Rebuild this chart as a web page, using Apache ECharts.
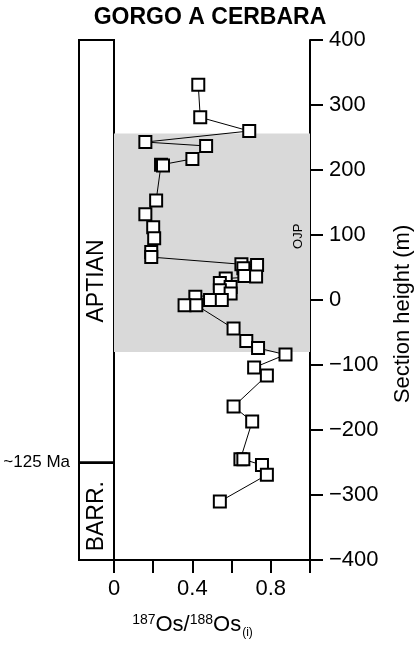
<!DOCTYPE html>
<html>
<head>
<meta charset="utf-8">
<script src="https://cdn.jsdelivr.net/npm/echarts@6/dist/echarts.min.js"></script>
<style>
  html, body { margin: 0; padding: 0; background: #fff; }
  #chart { width: 420px; height: 645px; }
</style>
</head>
<body>
<div id="chart"></div>
<script>
// 187Os/188Os(i) vs section height, Gorgo a Cerbara (top to bottom)
const osRatio = [
  0.43, 0.44, 0.69, 0.16, 0.47, 0.40, 0.24, 0.25, 0.215, 0.16,
  0.20, 0.205, 0.19, 0.19, 0.65, 0.73, 0.66, 0.665, 0.725, 0.57,
  0.54, 0.595, 0.54, 0.595, 0.415, 0.49, 0.55, 0.36, 0.42, 0.61,
  0.675, 0.735, 0.875, 0.715, 0.78, 0.61, 0.705, 0.645, 0.66, 0.755,
  0.78, 0.54
];
const sectionHeight = [
  331, 281, 260, 243, 237, 217, 208, 207, 153, 132,
  112, 95, 74, 66, 55, 54, 49, 37, 36, 33,
  26, 20, 15, 10, 5, 0, 0, -8, -8, -44,
  -63, -74, -84, -104, -116, -164, -187, -245, -245, -254,
  -269, -310
];
const xTickLabels = [0, 0.4, 0.8];
const ojpBand = [-80, 256];
const stages = ['APTIAN', 'BARR.'];
const stageBoundary = -250;
const boundaryAge = '~125 Ma';

const font = 'Liberation Sans, Arial, sans-serif';
const points = osRatio.map((v, i) => [v, sectionHeight[i]]);

const chart = echarts.init(document.getElementById('chart'));

const option = {
  animation: false,
  title: {
    text: 'GORGO A CERBARA',
    left: 'center',
    top: 1,
    textStyle: { fontFamily: font, fontSize: 23, fontWeight: 'bold', color: '#000' }
  },
  grid: [
    { left: 114, right: 110, top: 40, bottom: 85, outerBoundsMode: 'none' },
    { left: 79, width: 35, top: 40, bottom: 85, outerBoundsMode: 'none' }
  ],
  xAxis: [
    {
      gridIndex: 0,
      type: 'value',
      min: 0,
      max: 1,
      interval: 0.2,
      splitLine: { show: false },
      axisLine: { onZero: false, lineStyle: { color: '#000', width: 2 } },
      axisTick: { show: true, length: 13, lineStyle: { color: '#000', width: 2 } },
      axisLabel: {
        margin: 18,
        fontFamily: font,
        fontSize: 22,
        color: '#000',
        formatter: v => {
          const hit = xTickLabels.find(t => Math.abs(t - v) < 1e-6);
          return hit === undefined ? '' : String(hit);
        }
      },
      name: '{sup|187}{main|Os/}{sup|188}{main|Os}{sub|(i)}',
      nameLocation: 'middle',
      nameGap: 53,
      nameTextStyle: {
        padding: [0, 39, 0, 0],
        rich: {
          main: { fontFamily: font, fontSize: 22, lineHeight: 24, color: '#000' },
          sup: { fontFamily: font, fontSize: 14, lineHeight: 14, padding: [0, 0, 10, 0], color: '#000' },
          sub: { fontFamily: font, fontSize: 12, lineHeight: 12, padding: [15, 0, 0, 1], color: '#000' }
        }
      }
    },
    { gridIndex: 1, type: 'value', min: 0, max: 1, show: false }
  ],
  yAxis: [
    {
      gridIndex: 0,
      type: 'value',
      position: 'right',
      min: -400,
      max: 400,
      interval: 100,
      splitLine: { show: false },
      axisLine: { show: true, onZero: false, lineStyle: { color: '#000', width: 2 } },
      axisTick: { show: true, length: 13, lineStyle: { color: '#000', width: 2 } },
      axisLabel: {
        margin: 19,
        fontFamily: font,
        fontSize: 22,
        color: '#000',
        formatter: v => String(v).replace('-', '\u2212')
      },
      name: 'Section height (m)',
      nameLocation: 'middle',
      nameRotate: 90,
      nameGap: 82,
      nameTextStyle: { fontFamily: font, fontSize: 22, color: '#000', padding: [0, 28, 0, 0] }
    },
    { gridIndex: 1, type: 'value', min: -400, max: 400, show: false }
  ],
  series: [
    {
      // stratigraphic column
      type: 'line',
      xAxisIndex: 1,
      yAxisIndex: 1,
      data: [],
      markArea: {
        silent: true,
        itemStyle: { color: '#fff', borderColor: '#000', borderWidth: 2 },
        label: {
          rotate: 90,
          align: 'center',
          verticalAlign: 'middle',
          fontFamily: font,
          fontSize: 23,
          color: '#000'
        },
        data: [
          [{ yAxis: stageBoundary, name: stages[0], label: { position: ['50%', '57%'] } }, { yAxis: 400 }],
          [{ yAxis: -400, name: stages[1], label: { position: ['50%', '55%'] } }, { yAxis: stageBoundary }]
        ]
      },
      markLine: {
        silent: true,
        symbol: 'none',
        lineStyle: { color: '#000', width: 2, type: 'solid' },
        label: {
          show: true,
          position: 'start',
          distance: 9,
          formatter: boundaryAge,
          fontFamily: font,
          fontSize: 17,
          color: '#000'
        },
        data: [{ yAxis: stageBoundary }]
      }
    },
    {
      name: 'Os',
      type: 'line',
      data: points,
      symbol: 'rect',
      symbolSize: 12,
      z: 5,
      itemStyle: { color: '#fff', borderColor: '#000', borderWidth: 2 },
      lineStyle: { color: '#000', width: 1 },
      markArea: {
        silent: true,
        itemStyle: { color: '#d9d9d9' },
        label: {
          position: ['94%', '47%'],
          align: 'center',
          verticalAlign: 'middle',
          rotate: 90,
          fontFamily: font,
          fontSize: 13,
          color: '#000'
        },
        data: [[{ yAxis: ojpBand[0], name: 'OJP' }, { yAxis: ojpBand[1] }]]
      }
    }
  ]
};

chart.setOption(option);
</script>
</body>
</html>
